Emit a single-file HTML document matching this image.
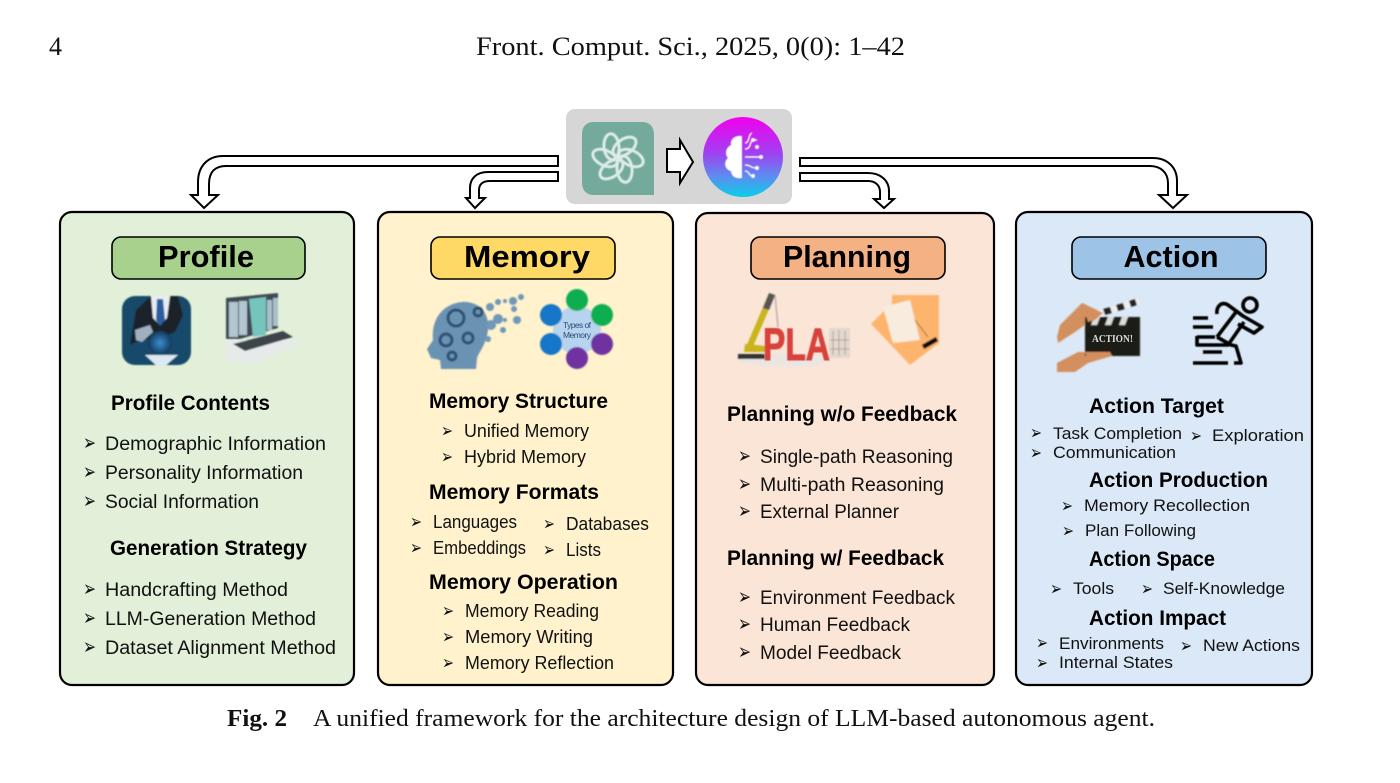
<!DOCTYPE html>
<html><head><meta charset="utf-8"><style>
html,body{margin:0;padding:0;background:#fff}
svg{display:block}
.s{font-family:"Liberation Serif",serif;fill:#111}
.h{font-family:"Liberation Sans",sans-serif;font-weight:bold;fill:#000;font-size:21px}
.t{font-family:"Liberation Sans",sans-serif;font-weight:bold;fill:#000;font-size:31px;text-anchor:middle}
.i{font-family:"Liberation Sans",sans-serif;fill:#111;font-size:19px}
.b{font-family:"DejaVu Sans",sans-serif;fill:#111;font-size:22px}
.b2{font-family:"DejaVu Sans",sans-serif;fill:#111;font-size:19px}
.ar{fill:#fff;stroke:#000;stroke-width:2;stroke-linejoin:miter}
</style></head><body>
<svg width="1400" height="783" viewBox="0 0 1400 783" xmlns="http://www.w3.org/2000/svg">
<defs>
<linearGradient id="g" x1="0" y1="0" x2="0" y2="1"><stop offset="0" stop-color="#f300ee"/><stop offset=".45" stop-color="#a040f0"/><stop offset=".75" stop-color="#5a8ff0"/><stop offset="1" stop-color="#08cfe8"/></linearGradient>
<radialGradient id="m"><stop offset="0" stop-color="#3d8ed0"/><stop offset="1" stop-color="#123a5c"/></radialGradient>
<filter id="bl"><feGaussianBlur stdDeviation=".8"/></filter>
<filter id="bl2"><feGaussianBlur stdDeviation=".4"/></filter>
</defs>
<rect width="1400" height="783" fill="#fff"/>
<text class="s" x="49" y="55" font-size="26">4</text>
<text class="s" x="476" y="55" font-size="26" textLength="429" lengthAdjust="spacingAndGlyphs">Front. Comput. Sci., 2025, 0(0): 1–42</text>

<rect x="566" y="109" width="226" height="95" rx="9" fill="#d6d6d6"/>
<path d="M594 122H642C650 122 654 127 654 135V195H594C586 195 582 190 582 182V134C582 127 586 122 594 122Z" fill="#74aa9c"/>
<g transform="translate(618 158)" fill="none" stroke="#dcebe6" stroke-width="3" filter="url(#bl2)">
<ellipse cx="13" cy="0" rx="13" ry="7.5" transform="rotate(0) rotate(25 13 0)"/>
<ellipse cx="13" cy="0" rx="13" ry="7.5" transform="rotate(60) rotate(25 13 0)"/>
<ellipse cx="13" cy="0" rx="13" ry="7.5" transform="rotate(120) rotate(25 13 0)"/>
<ellipse cx="13" cy="0" rx="13" ry="7.5" transform="rotate(180) rotate(25 13 0)"/>
<ellipse cx="13" cy="0" rx="13" ry="7.5" transform="rotate(240) rotate(25 13 0)"/>
<ellipse cx="13" cy="0" rx="13" ry="7.5" transform="rotate(300) rotate(25 13 0)"/>
</g>
<path class="ar" d="M667 149H680V140L693 162L680 183V172H667Z"/>
<circle cx="743" cy="157" r="40" fill="url(#g)"/>
<g filter="url(#bl2)">
<path d="M742 136C733 135 730 141 731 145C725 148 725 155 728 158C723 162 725 170 731 171C731 177 737 179 742 178Z" fill="#fff"/>
<path d="M745 157H761M745 149C752 149 749 140 754 140H757M745 143C750 143 748 134 752 133M745 165C752 165 749 168 757 168M745 171C750 171 748 176 753 176" fill="none" stroke="#fff" stroke-width="1.4"/>
<g fill="#fff"><circle cx="761" cy="157" r="2"/><circle cx="757" cy="147" r="2"/><circle cx="753" cy="140" r="2"/><circle cx="757" cy="168" r="2"/><circle cx="753" cy="176" r="2"/></g>
</g>

<path class="ar" d="M558 156H223C208 156 198 166 198 182V195H191L204 208L218 195H209V184C209 172 215 166 226 166H558Z"/>
<path class="ar" d="M558 172H488C477 172 470 178 470 188V198H466L475 208L485 198H479V190C479 184 483 181 490 181H558Z"/>
<path class="ar" d="M800 158H1153C1167 158 1177 167 1177 181V195H1187L1173 208L1159 195H1168V183C1168 173 1161 166 1150 166H800Z"/>
<path class="ar" d="M800 173H868C880 173 889 180 889 191V199H894L884 208L874 199H880V192C880 185 875 181 868 181H800Z"/>

<rect x="60" y="212" width="294" height="473" rx="12" fill="#e2f0d9" stroke="#000" stroke-width="2.2"/>
<rect x="378" y="212" width="295" height="473" rx="12" fill="#fff2cc" stroke="#000" stroke-width="2.2"/>
<rect x="696" y="213" width="298" height="472" rx="12" fill="#fbe5d6" stroke="#000" stroke-width="2.2"/>
<rect x="1016" y="212" width="296" height="473" rx="12" fill="#dae8f7" stroke="#000" stroke-width="2.2"/>

<rect x="112" y="237" width="193" height="42" rx="9" fill="#a9d18e" stroke="#000" stroke-width="1.6"/>
<rect x="431" y="237" width="184" height="42" rx="9" fill="#ffd966" stroke="#000" stroke-width="1.6"/>
<rect x="751" y="237" width="194" height="42" rx="9" fill="#f4b183" stroke="#000" stroke-width="1.6"/>
<rect x="1072" y="237" width="194" height="42" rx="9" fill="#9dc3e6" stroke="#000" stroke-width="1.6"/>
<text class="t" x="206" y="267" textLength="96" lengthAdjust="spacingAndGlyphs">Profile</text>
<text class="t" x="527" y="267" textLength="126" lengthAdjust="spacingAndGlyphs">Memory</text>
<text class="t" x="847" y="267" textLength="128" lengthAdjust="spacingAndGlyphs">Planning</text>
<text class="t" x="1171" y="267" textLength="95" lengthAdjust="spacingAndGlyphs">Action</text>

<!-- Profile icons -->
<g filter="url(#bl)">
<rect x="122" y="296" width="69" height="69" rx="13" fill="#17496a"/>
<path d="M130 345L136 310L151 296H178L183 315L175 332L160 338L140 340Z" fill="#1b222c"/>
<path d="M151 296H170L167 318L160 325L153 318Z" fill="#e9edf2"/>
<path d="M157 299H163L165 320L160 326L156 320Z" fill="#2b5da0"/>
<path d="M135 330L150 325L153 332L142 342L136 340Z" fill="#9fb0c0"/>
<circle cx="160" cy="343" r="12" fill="url(#m)"/>
<path d="M145 355H178L165 366H157Z" fill="#dbe9f2"/>
<path d="M227 362L225 340H285L307 341L252 364Z" fill="#e6ebea"/>
<path d="M233 344L283 331L293 337L245 351Z" fill="#3d454c"/>
<path d="M226 298L278 293V328L240 339H226Z" fill="#3f4a53"/>
<rect x="229" y="302" width="9" height="35" fill="#b3c6d1"/>
<rect x="239" y="301" width="8" height="34" fill="#b3c6d1"/>
<path d="M249 299L266 297V335L253 337Z" fill="#75c5bc"/>
<rect x="267" y="300" width="5" height="30" fill="#a9bfc9"/>
<rect x="273" y="298" width="5" height="28" fill="#a9bfc9"/>
</g>

<!-- Memory icons -->
<g filter="url(#bl)">
<path d="M441 369L440 360L431 358L427 349L433 340C431 320 442 304 462 302C478 301 490 312 488 330C486 345 480 350 477 358L476 369Z" fill="#6b93b3"/>
<g fill="none" stroke="#2c4f70" stroke-width="3"><circle cx="456" cy="318" r="8"/><circle cx="446" cy="340" r="6"/><circle cx="468" cy="338" r="5"/><circle cx="452" cy="356" r="4"/><circle cx="478" cy="312" r="4"/></g>
<g fill="#6f98b8"><circle cx="490" cy="307" r="4"/><circle cx="498" cy="302" r="3"/><circle cx="498" cy="319" r="5"/><circle cx="505" cy="301" r="2"/><circle cx="513" cy="301" r="4"/><circle cx="521" cy="297" r="3"/><circle cx="514" cy="309" r="3"/><circle cx="505" cy="320" r="2"/><circle cx="517" cy="320" r="4"/><circle cx="491" cy="325" r="5"/><circle cx="503" cy="330" r="3"/><circle cx="488" cy="339" r="3"/></g>
<circle cx="577" cy="330" r="24" fill="#b7d3ee"/>
<circle cx="577" cy="300" r="11" fill="#0fae4f"/><circle cx="602" cy="315" r="11" fill="#0fae4f"/><circle cx="602" cy="344" r="11" fill="#7030a0"/><circle cx="577" cy="358" r="11" fill="#7030a0"/><circle cx="551" cy="344" r="11" fill="#1376c8"/><circle cx="551" cy="315" r="11" fill="#1376c8"/>
</g>
<text x="577" y="328" font-family="Liberation Sans,sans-serif" font-size="8.5" fill="#2a4d7a" text-anchor="middle" textLength="28">Types of</text>
<text x="577" y="338" font-family="Liberation Sans,sans-serif" font-size="8.5" fill="#2a4d7a" text-anchor="middle" textLength="28">Memory</text>

<!-- Planning icons -->
<g filter="url(#bl)">
<ellipse cx="785" cy="360" rx="46" ry="7" fill="#ece6e2"/>
<path d="M769 293L746 347L752 349L775 295Z" fill="#c9b41f"/>
<path d="M769 293L763 308L769 310L775 295Z" fill="#555"/>
<path d="M775 295L778 327" stroke="#999" fill="none"/>
<path d="M745 344L766 346V352L744 352Z" fill="#c9b41f"/>
<path d="M738 354H765V359H738Z" fill="#333"/>
<rect x="829" y="328" width="21" height="30" fill="#e5d8cf"/>
<path d="M833 331V355M839 330V356M845 331V355M830 340H849M830 349H849" stroke="#aaa098" fill="none"/>
</g>
<text x="763" y="360" font-family="Liberation Sans,sans-serif" font-weight="bold" font-size="45" fill="#d8433c" stroke="#d8433c" stroke-width="1" textLength="67" lengthAdjust="spacingAndGlyphs" filter="url(#bl2)">PLA</text>
<g filter="url(#bl)">
<path d="M892 295H939V343L910 365L871 324L882 313L892 305Z" fill="#fdb56e"/>
<path d="M883 307L910 300L920 340L893 343Z" fill="#f8ecdf"/>
<path d="M915 320L928 337" stroke="#8a6a45" fill="none"/>
<path d="M923 347L937 339" stroke="#111" stroke-width="5" fill="none"/>
</g>

<!-- Action icons -->
<g filter="url(#bl)">
<path d="M1057 337L1060 325L1082 303L1103 313L1095 320L1085 325L1075 332L1058 343Z" fill="#d48f5e"/>
<path d="M1057 363L1078 352H1110L1112 356L1088 363L1075 372H1057Z" fill="#d48f5e"/>
<rect x="1085" y="317" width="55" height="39" fill="#1c1a19"/>
<path d="M1091 325l3-8h6l-3 8zM1105 325l3-8h6l-3 8zM1119 325l3-8h6l-3 8z" fill="#ddd"/>
<path d="M1097 311L1138 298L1140 304L1099 317Z" fill="#eee"/>
<path d="M1103 309l7-2 2 6-7 2zM1116 305l7-2 2 6-7 2zM1129 301l6-2 2 6-6 2z" fill="#222"/>
<path d="M1082 303L1103 313L1095 320L1088 322Z" fill="#d48f5e"/>
<path d="M1085 352H1110L1112 356L1088 361Z" fill="#d48f5e"/>
</g>
<text x="1092" y="342" font-family="Liberation Serif,serif" font-weight="bold" font-size="10" fill="#ddd" textLength="41" lengthAdjust="spacingAndGlyphs">ACTION!</text>
<g fill="none" stroke="#000" stroke-width="3.6" filter="url(#bl2)" stroke-linecap="butt" stroke-linejoin="round">
<circle cx="1250" cy="305" r="7"/>
<path d="M1217 314C1216 306 1222 301 1228 305L1243 316L1262 327L1254 333L1238 324"/>
<path d="M1236 312L1217 337M1244 322L1228 345M1217 337L1231 345L1236 346L1241 363H1234"/>
<path d="M1193 318H1208M1193 327H1213M1197 337H1215M1197 336V345H1229M1203 352H1222M1193 363H1228"/>
</g>

<!-- Profile text -->
<text class="h" x="111" y="410" textLength="159" lengthAdjust="spacingAndGlyphs">Profile Contents</text>
<g class="b" transform="translate(0 1)"><text x="83" y="449" textLength="13" lengthAdjust="spacingAndGlyphs">➢</text><text x="83" y="478" textLength="13" lengthAdjust="spacingAndGlyphs">➢</text><text x="83" y="507" textLength="13" lengthAdjust="spacingAndGlyphs">➢</text><text x="83" y="595" textLength="13" lengthAdjust="spacingAndGlyphs">➢</text><text x="83" y="624" textLength="13" lengthAdjust="spacingAndGlyphs">➢</text><text x="83" y="653" textLength="13" lengthAdjust="spacingAndGlyphs">➢</text></g>
<text class="i" x="105" y="450" textLength="221" lengthAdjust="spacingAndGlyphs">Demographic Information</text>
<text class="i" x="105" y="479" textLength="198" lengthAdjust="spacingAndGlyphs">Personality Information</text>
<text class="i" x="105" y="508" textLength="154" lengthAdjust="spacingAndGlyphs">Social Information</text>
<text class="h" x="110" y="555" textLength="197" lengthAdjust="spacingAndGlyphs">Generation Strategy</text>
<text class="i" x="105" y="596" textLength="183" lengthAdjust="spacingAndGlyphs">Handcrafting Method</text>
<text class="i" x="105" y="625" textLength="211" lengthAdjust="spacingAndGlyphs">LLM-Generation Method</text>
<text class="i" x="105" y="654" textLength="231" lengthAdjust="spacingAndGlyphs">Dataset Alignment Method</text>

<!-- Memory text -->
<text class="h" x="429" y="408" textLength="179" lengthAdjust="spacingAndGlyphs">Memory Structure</text>
<g class="b2" transform="translate(0 1)"><text x="441" y="436" textLength="12" lengthAdjust="spacingAndGlyphs">➢</text><text x="441" y="462" textLength="12" lengthAdjust="spacingAndGlyphs">➢</text><text x="410" y="527" textLength="12" lengthAdjust="spacingAndGlyphs">➢</text><text x="410" y="553" textLength="12" lengthAdjust="spacingAndGlyphs">➢</text><text x="543" y="529" textLength="12" lengthAdjust="spacingAndGlyphs">➢</text><text x="543" y="555" textLength="12" lengthAdjust="spacingAndGlyphs">➢</text><text x="442" y="616" textLength="12" lengthAdjust="spacingAndGlyphs">➢</text><text x="442" y="642" textLength="12" lengthAdjust="spacingAndGlyphs">➢</text><text x="442" y="668" textLength="12" lengthAdjust="spacingAndGlyphs">➢</text></g>
<text class="i" x="464" y="437" textLength="125" lengthAdjust="spacingAndGlyphs" style="font-size:18px">Unified Memory</text>
<text class="i" x="464" y="463" textLength="122" lengthAdjust="spacingAndGlyphs" style="font-size:18px">Hybrid Memory</text>
<text class="h" x="429" y="499" textLength="170" lengthAdjust="spacingAndGlyphs">Memory Formats</text>
<text class="i" x="433" y="528" textLength="84" lengthAdjust="spacingAndGlyphs" style="font-size:18px">Languages</text>
<text class="i" x="566" y="530" textLength="83" lengthAdjust="spacingAndGlyphs" style="font-size:18px">Databases</text>
<text class="i" x="433" y="554" textLength="93" lengthAdjust="spacingAndGlyphs" style="font-size:18px">Embeddings</text>
<text class="i" x="566" y="556" textLength="35" lengthAdjust="spacingAndGlyphs" style="font-size:18px">Lists</text>
<text class="h" x="429" y="589" textLength="189" lengthAdjust="spacingAndGlyphs">Memory Operation</text>
<text class="i" x="465" y="617" textLength="134" lengthAdjust="spacingAndGlyphs" style="font-size:18px">Memory Reading</text>
<text class="i" x="465" y="643" textLength="128" lengthAdjust="spacingAndGlyphs" style="font-size:18px">Memory Writing</text>
<text class="i" x="465" y="669" textLength="149" lengthAdjust="spacingAndGlyphs" style="font-size:18px">Memory Reflection</text>

<!-- Planning text -->
<text class="h" x="727" y="421" textLength="230" lengthAdjust="spacingAndGlyphs">Planning w/o Feedback</text>
<g class="b" transform="translate(0 1)"><text x="738" y="462" textLength="13" lengthAdjust="spacingAndGlyphs">➢</text><text x="738" y="490" textLength="13" lengthAdjust="spacingAndGlyphs">➢</text><text x="738" y="517" textLength="13" lengthAdjust="spacingAndGlyphs">➢</text><text x="738" y="603" textLength="13" lengthAdjust="spacingAndGlyphs">➢</text><text x="738" y="630" textLength="13" lengthAdjust="spacingAndGlyphs">➢</text><text x="738" y="658" textLength="13" lengthAdjust="spacingAndGlyphs">➢</text></g>
<text class="i" x="760" y="463" textLength="193" lengthAdjust="spacingAndGlyphs">Single-path Reasoning</text>
<text class="i" x="760" y="491" textLength="184" lengthAdjust="spacingAndGlyphs">Multi-path Reasoning</text>
<text class="i" x="760" y="518" textLength="139" lengthAdjust="spacingAndGlyphs">External Planner</text>
<text class="h" x="727" y="565" textLength="217" lengthAdjust="spacingAndGlyphs">Planning w/ Feedback</text>
<text class="i" x="760" y="604" textLength="195" lengthAdjust="spacingAndGlyphs">Environment Feedback</text>
<text class="i" x="760" y="631" textLength="150" lengthAdjust="spacingAndGlyphs">Human Feedback</text>
<text class="i" x="760" y="659" textLength="141" lengthAdjust="spacingAndGlyphs">Model Feedback</text>

<!-- Action text -->
<text class="h" x="1089" y="413" textLength="135" lengthAdjust="spacingAndGlyphs">Action Target</text>
<g class="b2" transform="translate(0 1)"><text x="1030" y="438" textLength="12" lengthAdjust="spacingAndGlyphs">➢</text><text x="1190" y="441" textLength="12" lengthAdjust="spacingAndGlyphs">➢</text><text x="1030" y="458" textLength="12" lengthAdjust="spacingAndGlyphs">➢</text><text x="1061" y="511" textLength="12" lengthAdjust="spacingAndGlyphs">➢</text><text x="1062" y="536" textLength="12" lengthAdjust="spacingAndGlyphs">➢</text><text x="1050" y="594" textLength="12" lengthAdjust="spacingAndGlyphs">➢</text><text x="1141" y="594" textLength="12" lengthAdjust="spacingAndGlyphs">➢</text><text x="1036" y="648" textLength="12" lengthAdjust="spacingAndGlyphs">➢</text><text x="1180" y="651" textLength="12" lengthAdjust="spacingAndGlyphs">➢</text><text x="1036" y="668" textLength="12" lengthAdjust="spacingAndGlyphs">➢</text></g>
<text class="i" x="1053" y="439" textLength="129" lengthAdjust="spacingAndGlyphs" style="font-size:17px">Task Completion</text>
<text class="i" x="1212" y="441" textLength="92" lengthAdjust="spacingAndGlyphs" style="font-size:17px">Exploration</text>
<text class="i" x="1053" y="458" textLength="123" lengthAdjust="spacingAndGlyphs" style="font-size:17px">Communication</text>
<text class="h" x="1089" y="487" textLength="179" lengthAdjust="spacingAndGlyphs">Action Production</text>
<text class="i" x="1084" y="511" textLength="166" lengthAdjust="spacingAndGlyphs" style="font-size:17px">Memory Recollection</text>
<text class="i" x="1085" y="536" textLength="111" lengthAdjust="spacingAndGlyphs" style="font-size:17px">Plan Following</text>
<text class="h" x="1089" y="566" textLength="126" lengthAdjust="spacingAndGlyphs">Action Space</text>
<text class="i" x="1073" y="594" textLength="41" lengthAdjust="spacingAndGlyphs" style="font-size:17px">Tools</text>
<text class="i" x="1163" y="594" textLength="122" lengthAdjust="spacingAndGlyphs" style="font-size:17px">Self-Knowledge</text>
<text class="h" x="1089" y="625" textLength="137" lengthAdjust="spacingAndGlyphs">Action Impact</text>
<text class="i" x="1059" y="649" textLength="105" lengthAdjust="spacingAndGlyphs" style="font-size:17px">Environments</text>
<text class="i" x="1203" y="651" textLength="97" lengthAdjust="spacingAndGlyphs" style="font-size:17px">New Actions</text>
<text class="i" x="1059" y="668" textLength="114" lengthAdjust="spacingAndGlyphs" style="font-size:17px">Internal States</text>

<text class="s" x="227" y="726" font-size="24" font-weight="bold" textLength="60" lengthAdjust="spacingAndGlyphs">Fig. 2</text>
<text class="s" x="313" y="726" font-size="24" textLength="842" lengthAdjust="spacingAndGlyphs">A unified framework for the architecture design of LLM-based autonomous agent.</text>
</svg>
</body></html>
